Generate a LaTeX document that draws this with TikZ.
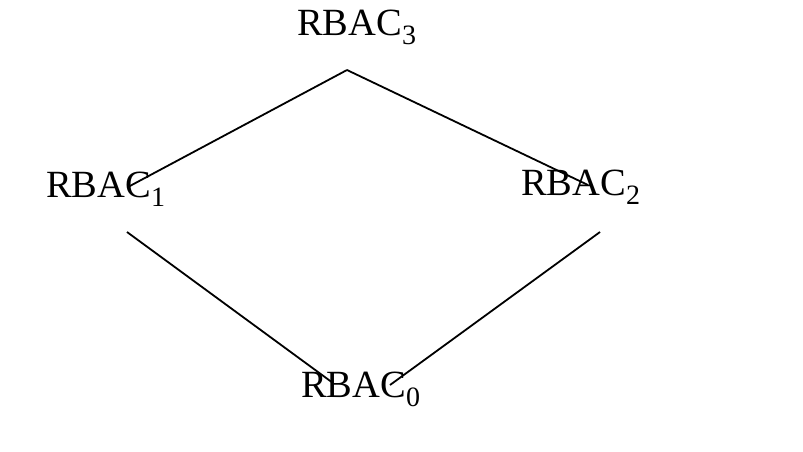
\documentclass[tikz,border=0pt]{standalone}
\usepackage{fontspec}
\setmainfont{Liberation Serif}
\usetikzlibrary{positioning}
\newcommand{\rolesub}[1]{\raisebox{-0.24em}{\fontsize{28}{28}\selectfont #1}}
\tikzset{role/.style = {anchor=base west, inner sep=0pt,
                        font=\fontsize{38.5}{46}\selectfont},
         link/.style = {line width=1.8pt}}

\begin{document}
\begin{tikzpicture}[x=1pt, y=-1pt]
    \useasboundingbox (0,0) rectangle (803,451);

    \node [role] (r3) at (297,35) {RBAC\rolesub{3}};
    \node [role] (r1) at (46,197) {RBAC\rolesub{1}};
    \node [role] (r2) at (521,195) {RBAC\rolesub{2}};
    \node [role] (r0) at (301,397) {RBAC\rolesub{0}};

    \coordinate (apex) at ([shift={(50,35)}]r3.base west);
    \draw [link] (apex) -- ([shift={(82,-10)}]r1.base west);
    \draw [link] (apex) -- ([shift={(67,-10)}]r2.base west);
    \draw [link] ([shift={(81,35)}]r1.base west) -- ([shift={(32,-14)}]r0.base west);
    \draw [link] ([shift={(79,37)}]r2.base west) -- ([shift={(89,-12)}]r0.base west);
\end{tikzpicture}
\end{document}
